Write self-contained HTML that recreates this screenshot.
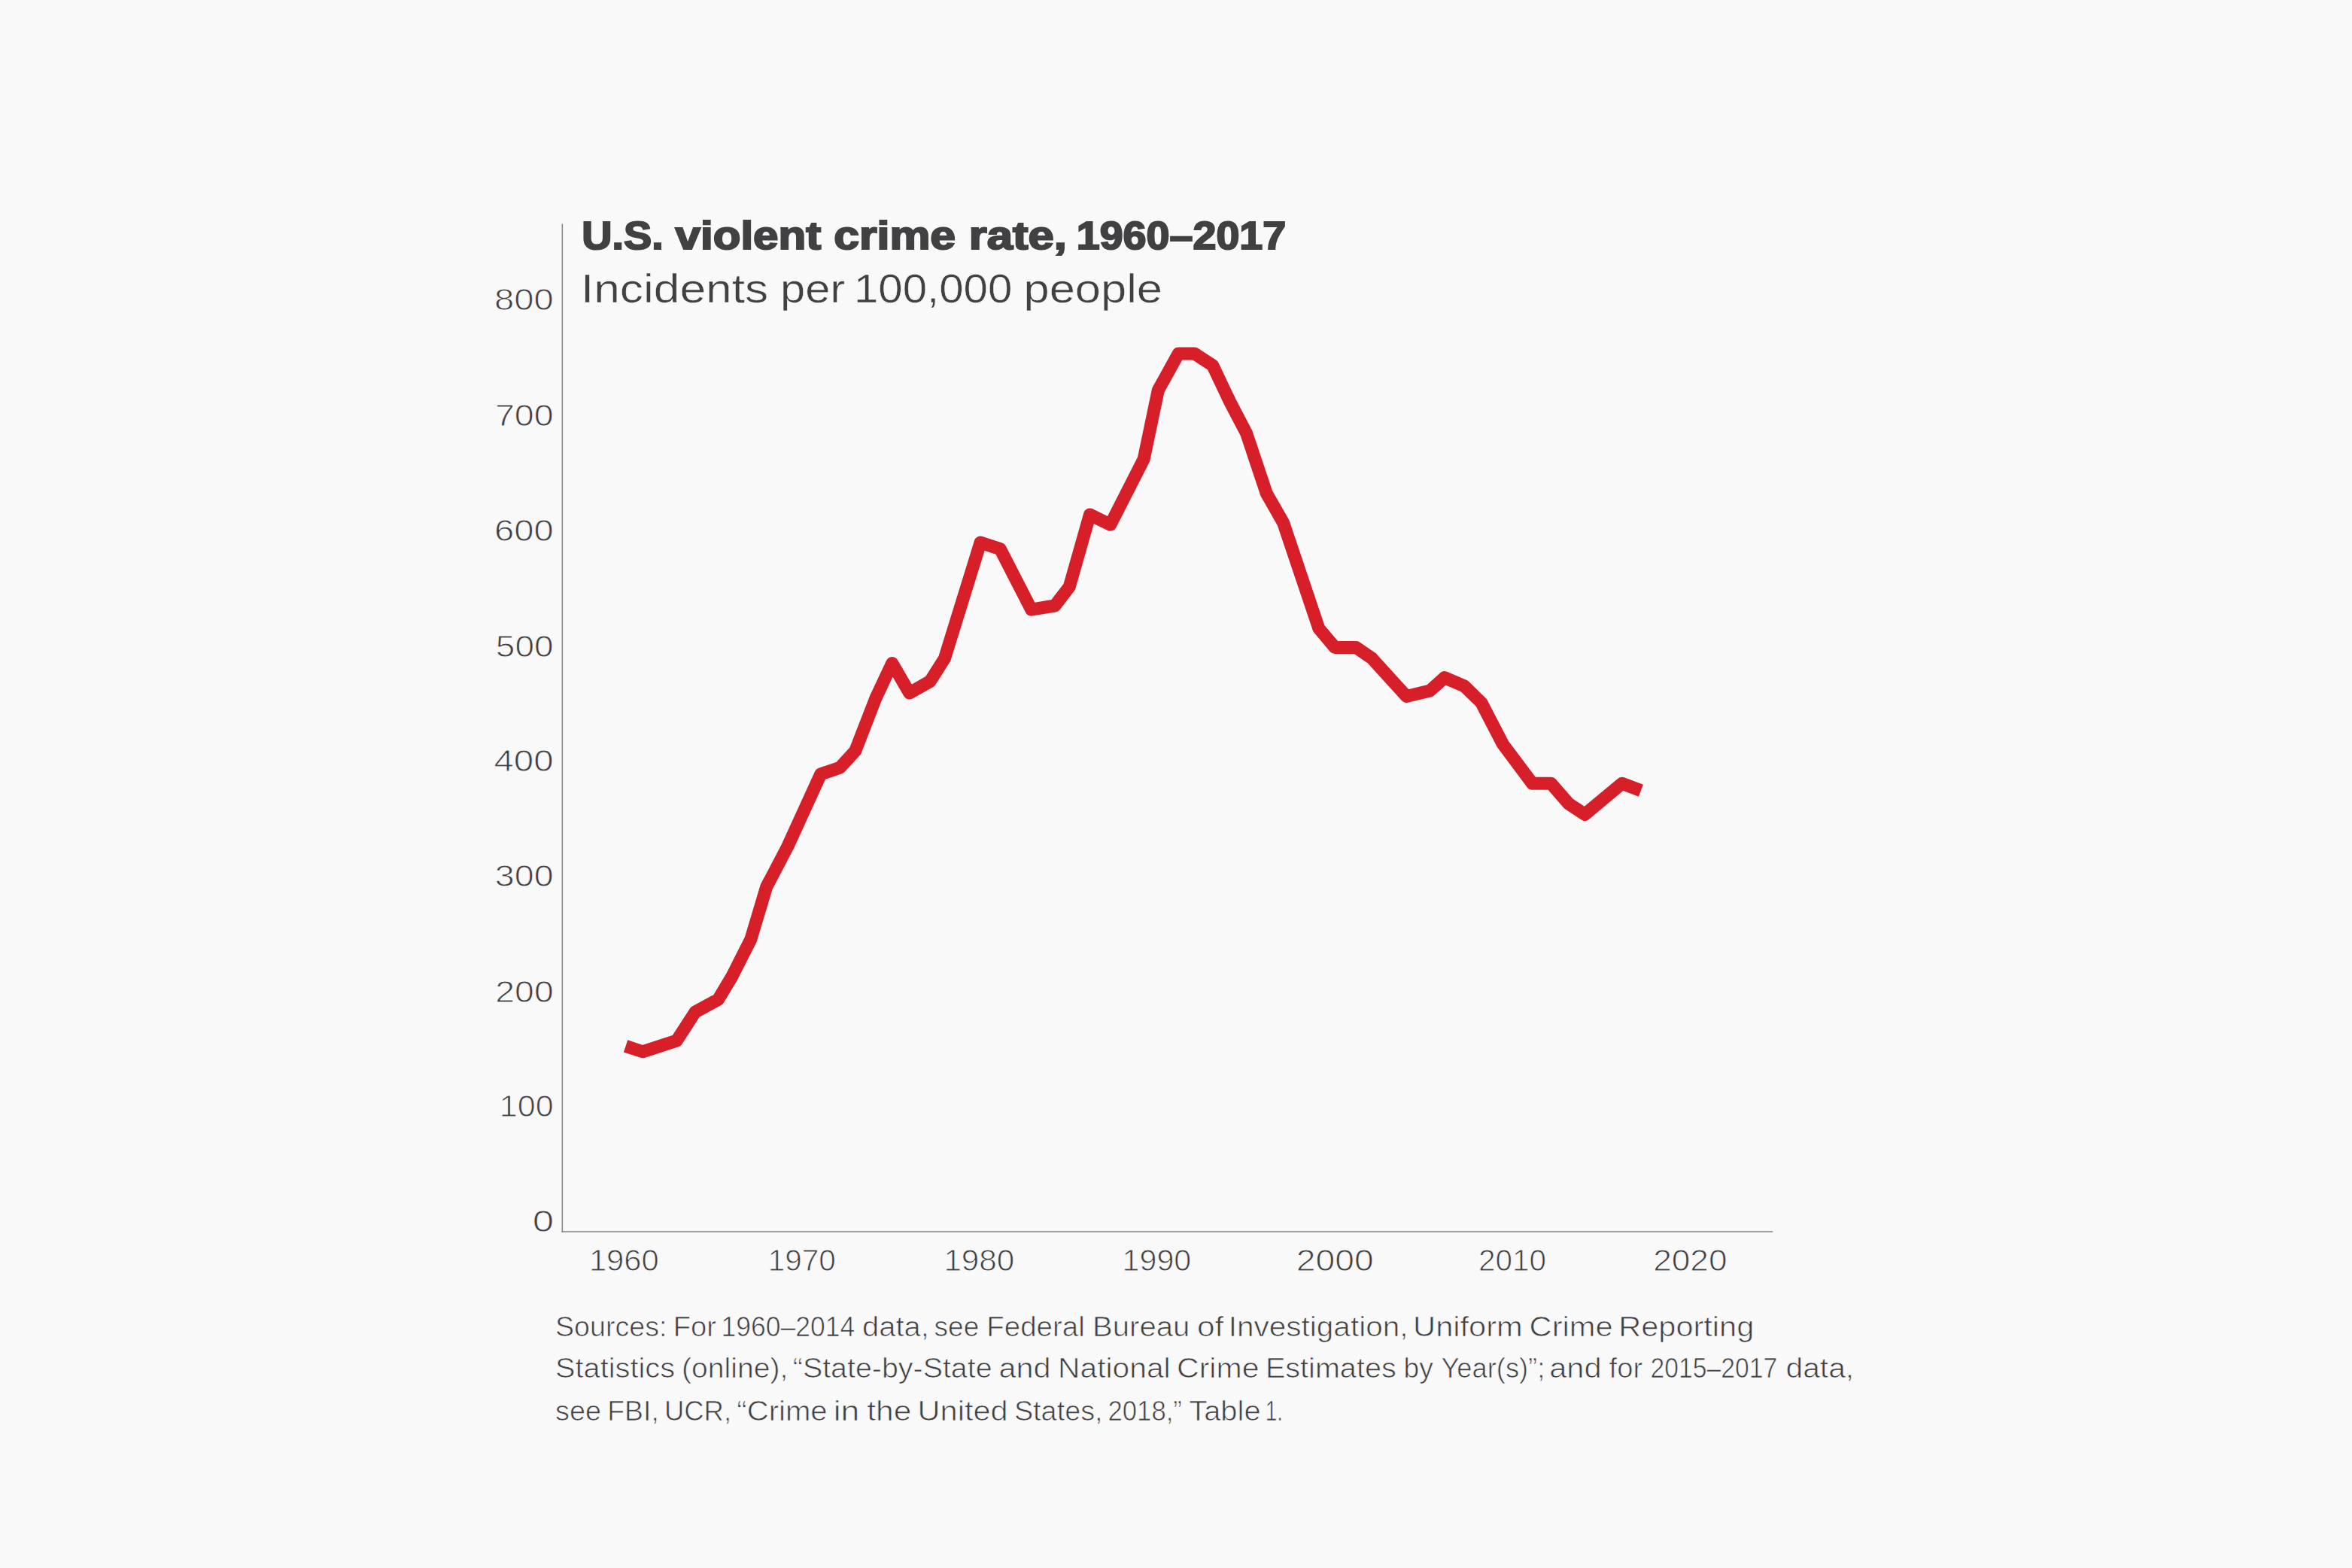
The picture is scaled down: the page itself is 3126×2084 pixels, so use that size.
<!DOCTYPE html>
<html lang="en">
<head>
<meta charset="utf-8">
<title>U.S. violent crime rate, 1960–2017</title>
<style>
html,body{margin:0;padding:0;background:#f9f9f9;}
body{width:3126px;height:2084px;overflow:hidden;}
svg{display:block;}
text{font-family:"Liberation Sans",sans-serif;fill:#4a4a4c;}
.title{font-weight:bold;fill:#414042;stroke:#414042;stroke-width:2.1px;stroke-linejoin:miter;}
.sub{fill:#414042;stroke:#f9f9f9;stroke-width:0.5px;}
.lab{fill:#414042;stroke:#f9f9f9;stroke-width:0.9px;}
.src{fill:#414042;stroke:#f9f9f9;stroke-width:0.7px;}
</style>
</head>
<body>
<svg width="3126" height="2084" viewBox="0 0 3126 2084">
<rect width="3126" height="2084" fill="#f9f9f9"/>
<!-- axes -->
<line x1="747.35" y1="297.5" x2="747.35" y2="1637.9" stroke="#808285" stroke-width="1.5"/>
<line x1="746.6" y1="1637.0" x2="2356.3" y2="1637.0" stroke="#808285" stroke-width="1.5"/>
<!-- data line -->
<polyline points="831.6,1390.4 854.0,1397.8 899.3,1383.2 924.0,1345.0 954.4,1328.6 972.5,1298.5 997.8,1248.6 1018.7,1178.8 1046.8,1125.1 1090.8,1028.9 1116.3,1020.2 1136.7,998.1 1163.8,928.2 1185.7,881.5 1208.7,921.1 1236.2,905.5 1255.4,875.2 1303.1,721.1 1329.3,729.7 1370.7,810.1 1402.0,805.0 1421.3,779.8 1448.5,684.0 1475.8,697.3 1520.2,610.1 1539.3,518.7 1566.3,469.9 1587.5,469.9 1611.7,485.6 1634.7,534.0 1656.6,575.9 1683.3,655.7 1705.6,694.7 1752.8,835.1 1774.2,860.6 1802.3,860.6 1823.5,875.1 1869.4,925.6 1900.5,918.0 1919.9,900.6 1946.2,911.9 1968.9,934.0 1997.4,989.0 2036.6,1041.3 2061.5,1041.3 2084.8,1068.1 2106.4,1082.4 2155.8,1041.3 2180.9,1050.8" fill="none" stroke="#d71f2a" stroke-width="17" stroke-linejoin="round" stroke-linecap="butt"/>
<text class="title" y="331.2" font-size="52.4"><tspan x="773.2" textLength="108.5" lengthAdjust="spacingAndGlyphs">U.S.</tspan> <tspan x="897.5" textLength="193.8" lengthAdjust="spacingAndGlyphs">violent</tspan> <tspan x="1108.2" textLength="161.9" lengthAdjust="spacingAndGlyphs">crime</tspan> <tspan x="1287.7" textLength="130.2" lengthAdjust="spacingAndGlyphs">rate,</tspan> <tspan x="1430.7" textLength="278.6" lengthAdjust="spacingAndGlyphs">1960–2017</tspan></text>
<text class="sub" y="402.0" font-size="54"><tspan x="771.9" textLength="249.3" lengthAdjust="spacingAndGlyphs">Incidents</tspan> <tspan x="1037.0" textLength="86.2" lengthAdjust="spacingAndGlyphs">per</tspan> <tspan x="1134.9" textLength="210.5" lengthAdjust="spacingAndGlyphs">100,000</tspan> <tspan x="1360.5" textLength="184.5" lengthAdjust="spacingAndGlyphs">people</tspan></text>
<text class="lab" x="656.9" y="412.2" font-size="40" textLength="78.8" lengthAdjust="spacingAndGlyphs">800</text>
<text class="lab" x="657.9" y="566.3" font-size="40" textLength="77.8" lengthAdjust="spacingAndGlyphs">700</text>
<text class="lab" x="656.9" y="719.4" font-size="40" textLength="78.8" lengthAdjust="spacingAndGlyphs">600</text>
<text class="lab" x="658.8" y="872.5" font-size="40" textLength="76.8" lengthAdjust="spacingAndGlyphs">500</text>
<text class="lab" x="656.4" y="1025.2" font-size="40" textLength="79.3" lengthAdjust="spacingAndGlyphs">400</text>
<text class="lab" x="657.8" y="1178.4" font-size="40" textLength="77.8" lengthAdjust="spacingAndGlyphs">300</text>
<text class="lab" x="658.3" y="1331.5" font-size="40" textLength="77.4" lengthAdjust="spacingAndGlyphs">200</text>
<text class="lab" x="663.8" y="1483.7" font-size="40" textLength="71.9" lengthAdjust="spacingAndGlyphs">100</text>
<text class="lab" x="707.8" y="1636.7" font-size="40" textLength="28.4" lengthAdjust="spacingAndGlyphs">0</text>
<text class="lab" x="782.9" y="1688.9" font-size="40" textLength="92.8" lengthAdjust="spacingAndGlyphs">1960</text>
<text class="lab" x="1020.8" y="1688.9" font-size="40" textLength="90.0" lengthAdjust="spacingAndGlyphs">1970</text>
<text class="lab" x="1254.4" y="1688.9" font-size="40" textLength="93.9" lengthAdjust="spacingAndGlyphs">1980</text>
<text class="lab" x="1491.6" y="1688.9" font-size="40" textLength="91.6" lengthAdjust="spacingAndGlyphs">1990</text>
<text class="lab" x="1722.8" y="1688.9" font-size="40" textLength="102.8" lengthAdjust="spacingAndGlyphs">2000</text>
<text class="lab" x="1964.9" y="1688.9" font-size="40" textLength="90.0" lengthAdjust="spacingAndGlyphs">2010</text>
<text class="lab" x="2197.2" y="1688.9" font-size="40" textLength="98.3" lengthAdjust="spacingAndGlyphs">2020</text>
<text class="src" y="1775.8" font-size="36"><tspan x="738.0" textLength="148.4" lengthAdjust="spacingAndGlyphs">Sources:</tspan> <tspan x="894.7" textLength="57.3" lengthAdjust="spacingAndGlyphs">For</tspan> <tspan x="958.4" textLength="178.0" lengthAdjust="spacingAndGlyphs">1960–2014</tspan> <tspan x="1146.1" textLength="88.8" lengthAdjust="spacingAndGlyphs">data,</tspan> <tspan x="1241.6" textLength="59.6" lengthAdjust="spacingAndGlyphs">see</tspan> <tspan x="1311.3" textLength="130.4" lengthAdjust="spacingAndGlyphs">Federal</tspan> <tspan x="1452.0" textLength="129.4" lengthAdjust="spacingAndGlyphs">Bureau</tspan> <tspan x="1591.0" textLength="35.4" lengthAdjust="spacingAndGlyphs">of</tspan> <tspan x="1632.7" textLength="238.8" lengthAdjust="spacingAndGlyphs">Investigation,</tspan> <tspan x="1878.1" textLength="145.7" lengthAdjust="spacingAndGlyphs">Uniform</tspan> <tspan x="2032.6" textLength="111.0" lengthAdjust="spacingAndGlyphs">Crime</tspan> <tspan x="2151.2" textLength="180.1" lengthAdjust="spacingAndGlyphs">Reporting</tspan></text>
<text class="src" y="1831.1" font-size="36"><tspan x="738.0" textLength="159.1" lengthAdjust="spacingAndGlyphs">Statistics</tspan> <tspan x="906.0" textLength="141.4" lengthAdjust="spacingAndGlyphs">(online),</tspan> <tspan x="1053.8" textLength="264.8" lengthAdjust="spacingAndGlyphs">“State-by-State</tspan> <tspan x="1327.5" textLength="69.1" lengthAdjust="spacingAndGlyphs">and</tspan> <tspan x="1406.1" textLength="149.6" lengthAdjust="spacingAndGlyphs">National</tspan> <tspan x="1564.0" textLength="109.5" lengthAdjust="spacingAndGlyphs">Crime</tspan> <tspan x="1681.9" textLength="173.8" lengthAdjust="spacingAndGlyphs">Estimates</tspan> <tspan x="1865.6" textLength="39.3" lengthAdjust="spacingAndGlyphs">by</tspan> <tspan x="1915.5" textLength="137.8" lengthAdjust="spacingAndGlyphs">Year(s)”;</tspan> <tspan x="2059.2" textLength="69.4" lengthAdjust="spacingAndGlyphs">and</tspan> <tspan x="2138.6" textLength="44.6" lengthAdjust="spacingAndGlyphs">for</tspan> <tspan x="2193.6" textLength="168.6" lengthAdjust="spacingAndGlyphs">2015–2017</tspan> <tspan x="2373.5" textLength="90.7" lengthAdjust="spacingAndGlyphs">data,</tspan></text>
<text class="src" y="1887.5" font-size="36"><tspan x="738.0" textLength="61.1" lengthAdjust="spacingAndGlyphs">see</tspan> <tspan x="807.3" textLength="68.5" lengthAdjust="spacingAndGlyphs">FBI,</tspan> <tspan x="882.9" textLength="89.2" lengthAdjust="spacingAndGlyphs">UCR,</tspan> <tspan x="979.3" textLength="120.4" lengthAdjust="spacingAndGlyphs">“Crime</tspan> <tspan x="1107.7" textLength="34.6" lengthAdjust="spacingAndGlyphs">in</tspan> <tspan x="1152.3" textLength="59.1" lengthAdjust="spacingAndGlyphs">the</tspan> <tspan x="1219.6" textLength="120.0" lengthAdjust="spacingAndGlyphs">United</tspan> <tspan x="1347.9" textLength="117.7" lengthAdjust="spacingAndGlyphs">States,</tspan> <tspan x="1472.5" textLength="98.4" lengthAdjust="spacingAndGlyphs">2018,”</tspan> <tspan x="1580.2" textLength="95.4" lengthAdjust="spacingAndGlyphs">Table</tspan> <tspan x="1681.7" textLength="23.4" lengthAdjust="spacingAndGlyphs">1.</tspan></text>
</svg>
</body>
</html>
